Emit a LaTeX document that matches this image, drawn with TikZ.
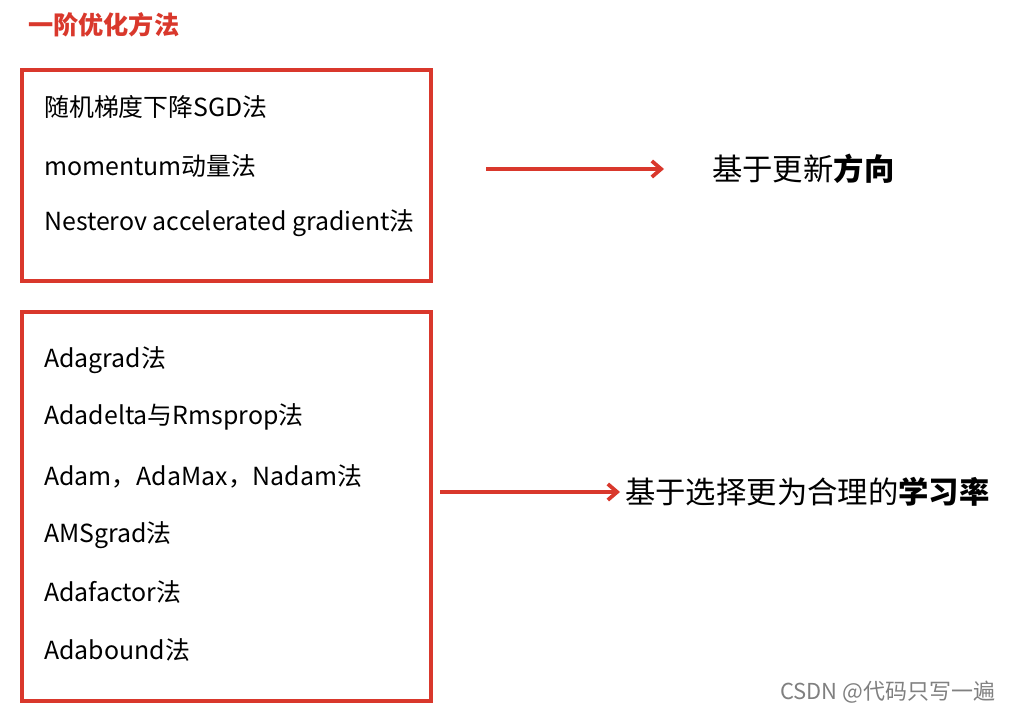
\documentclass[tikz,border=0pt]{standalone}
\usetikzlibrary{arrows.meta}
\usepackage{fontspec}
\setmainfont{Noto Sans CJK SC}
\definecolor{rd}{HTML}{D9382C}
\begin{document}
\begin{tikzpicture}[x=0.0264cm,y=-0.0264cm,
  box/.style={draw=rd,line width=2.5pt},
  item/.style={anchor=west,inner sep=0pt,font=\fontsize{18.7}{22}\selectfont},
  res/.style={anchor=west,inner sep=0pt,font=\fontsize{22.8}{26}\selectfont},
  arr/.style={draw=rd,line width=2.8pt,-{Straight Barb[length=7pt,width=12pt]}}]
\useasboundingbox (0,0) rectangle (1010,712);
\node[anchor=west,inner sep=0pt,text=rd,font=\fontsize{18.9}{22}\selectfont\bfseries] (title) at (28,25) {一阶优化方法};
\draw[box] (22,70) rectangle (431,281);
\draw[box] (22,312) rectangle (431,701);
\node[item] (a1) at (44,107) {随机梯度下降SGD法};
\node[item] (a2) at (44,166) {momentum动量法};
\node[item] (a3) at (44,223) {Nesterov accelerated gradient法};
\node[item] (b1) at (44,360) {Adagrad法};
\node[item] (b2) at (44,417) {Adadelta与Rmsprop法};
\node[item] (b3) at (44,476) {Adam，AdaMax，Nadam法};
\node[item] (b4) at (44,535) {AMSgrad法};
\node[item] (b5) at (44,592) {Adafactor法};
\node[item] (b6) at (44,650) {Adabound法};
\coordinate (s1) at (486,169); \coordinate (e1) at (664,169);
\coordinate (s2) at (440,492); \coordinate (e2) at (620,492);
\draw[arr] (s1) -- (e1);
\draw[arr] (s2) -- (e2);
\node[res] (r1) at (712,169) {基于更新\textbf{方向}};
\node[res] (r2) at (625,492) {基于选择更为合理的\textbf{学习率}};
\node[anchor=west,inner sep=0pt,text=gray,font=\fontsize{16.5}{18}\selectfont] (wm) at (780,692) {CSDN @代码只写一遍};
\end{tikzpicture}
\end{document}
